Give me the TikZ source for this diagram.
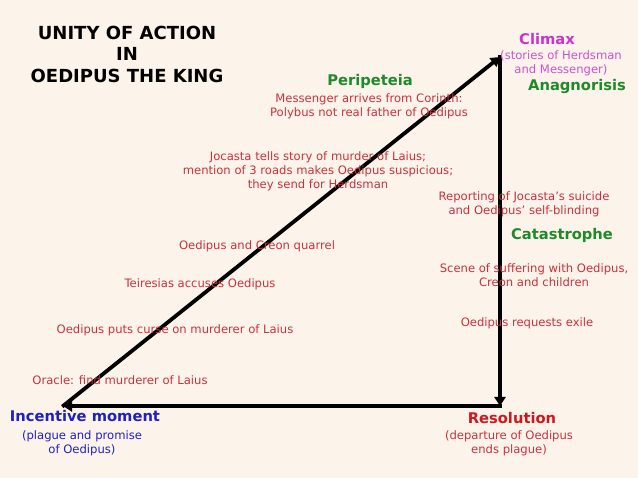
\documentclass[tikz,border=0pt]{standalone}
\usepackage{fontspec}
\setmainfont{DejaVu Sans}
\usetikzlibrary{arrows.meta}
\definecolor{bg}{HTML}{FCF3EA}
\definecolor{evt}{HTML}{C8323C}
\definecolor{grn}{HTML}{1F8A2A}
\definecolor{mag}{HTML}{CC33CC}
\definecolor{mag2}{HTML}{D050D0}
\definecolor{blu}{HTML}{2020C0}
\definecolor{res}{HTML}{CC1820}
\begin{document}
\begin{tikzpicture}[x=1pt,y=-1pt,
  evtxt/.style={text=evt,font=\fontsize{11.6}{14}\selectfont,align=center,inner sep=0pt},
  head/.style={font=\bfseries\fontsize{14.7}{16}\selectfont,inner sep=0pt},
  ttl/.style={font=\bfseries\fontsize{18}{21.5}\selectfont,align=center,inner sep=0pt},
  edge/.style={line width=3.8pt,-{Triangle[length=9pt,width=11pt]}}]
\fill[bg] (0,0) rectangle (638,478);
\useasboundingbox (0,0) rectangle (638,478);
\coordinate (A) at (63,406);
\coordinate (B) at (500,57);
\coordinate (C) at (500,406);
\draw[edge,shorten <=-1pt] (A) -- (B);
\draw[edge,shorten <=-2pt] (B) -- (C);
\draw[edge,shorten <=-2pt] (C) -- (A);
\node[ttl] (title) at (127,54) {UNITY OF ACTION\\IN\\OEDIPUS THE KING};
\node[head,text=mag] (climax) at (547,39) {Climax};
\node[evtxt,text=mag2] (climaxd) at (561,63) {(stories of Herdsman\\and Messenger)};
\node[head,text=grn] (anag) at (577,87) {Anagnorisis};
\node[head,text=grn] (peri) at (370,81) {Peripeteia};
\node[evtxt] (mess) at (369,106) {Messenger arrives from Corinth:\\Polybus not real father of Oedipus};
\node[evtxt] (joc) at (318,171) {Jocasta tells story of murder of Laius;\\mention of 3 roads makes Oedipus suspicious;\\they send for Herdsman};
\node[evtxt] (rep) at (524,204) {Reporting of Jocasta's suicide\\and Oedipus' self-blinding};
\node[head,text=grn] (cat) at (562,235) {Catastrophe};
\node[evtxt] (scene) at (534,275) {Scene of suffering with Oedipus,\\Creon and children};
\node[evtxt] (exile) at (527,323) {Oedipus requests exile};
\node[evtxt] (quar) at (257,246) {Oedipus and Creon quarrel};
\node[evtxt] (teir) at (200,284) {Teiresias accuses Oedipus};
\node[evtxt] (curse) at (175,330) {Oedipus puts curse on murderer of Laius};
\node[evtxt] (orac) at (120,380) {Oracle: find murderer of Laius};
\node[head,text=blu] (inc) at (85,416) {Incentive moment};
\node[evtxt,text=blu] (incd) at (82,443) {(plague and promise\\of Oedipus)};
\node[head,text=res] (resol) at (512,418) {Resolution};
\node[evtxt] (resd) at (509,443) {(departure of Oedipus\\ends plague)};
\end{tikzpicture}
\end{document}
